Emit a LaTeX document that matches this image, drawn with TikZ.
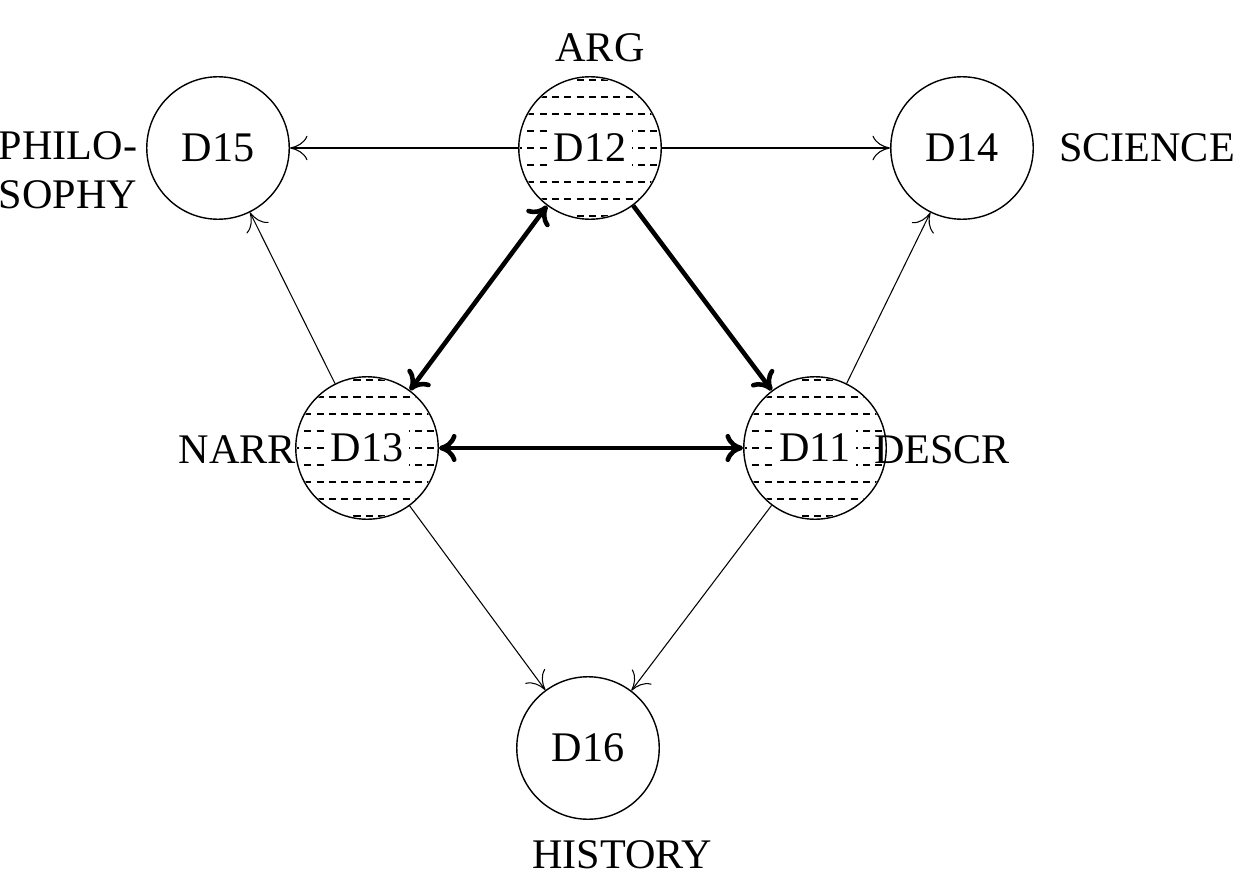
\documentclass[tikz,border=0pt]{standalone}
\usepackage{fontspec}
\setmainfont{Liberation Serif}
\usetikzlibrary{arrows.meta}
\begin{document}
\begin{tikzpicture}[x=0.02cm,y=-0.02cm,
  circ/.style={circle,draw,line width=0.8pt,minimum size=2.85cm,inner sep=0pt,font=\fontsize{24}{28}\selectfont},
  lab/.style={font=\fontsize{24}{28}\selectfont,inner sep=1pt},
  thin/.style={line width=0.6pt,-{To[length=10pt,width=14pt]}},
  thick/.style={line width=2.6pt,-{To[length=10pt,width=16pt]}},
  thickb/.style={line width=2.6pt,{To[length=10pt,width=16pt]}-{To[length=10pt,width=16pt]}}]
\useasboundingbox (0,0) rectangle (1233,885);
\begin{scope}
\clip (0,0) rectangle (1233,885);
\foreach \n/\x/\y in {D12/590/148,D13/367/448,D11/815/448}{
  \begin{scope}
  \clip (\x,\y) circle (70);
  \foreach \k in {-4,...,4}
    \draw[dash pattern=on 4pt off 3pt,line width=0.6pt] (\x-75,\y+\k*17) -- (\x+75,\y+\k*17);
  \end{scope}
}
\node[circ] (D15) at (218,148) {D15};
\node[circ] (D12) at (590,148) {\colorbox{white}{D12}};
\node[circ] (D14) at (962,148) {D14};
\node[circ] (D13) at (367,448) {\colorbox{white}{D13}};
\node[circ] (D11) at (815,448) {\colorbox{white}{D11}};
\node[circ] (D16) at (588,748) {D16};
\node[lab] (arg) at (600,48) {ARG};
\node[lab,align=right] (phil) at (68,170) {PHILO-\\SOPHY};
\node[lab,anchor=west] (sci) at (1057,148) {SCIENCE};
\node[lab,anchor=east] (narr) at (298,450) {NARR};
\node[lab,anchor=west] (descr) at (872,450) {DESCR};
\node[lab] (hist) at (622,855) {HISTORY};
\end{scope}
\draw[thin] (D12) -- (D15);
\draw[thin] (D12) -- (D14);
\draw[thin] (D13) -- (D15);
\draw[thin] (D11) -- (D14);
\draw[thin] (D13) -- (D16);
\draw[thin] (D11) -- (D16);
\draw[thickb] (D12) -- (D13);
\draw[thickb] (D13) -- (D11);
\draw[thick] (D12) -- (D11);
\end{tikzpicture}
\end{document}
